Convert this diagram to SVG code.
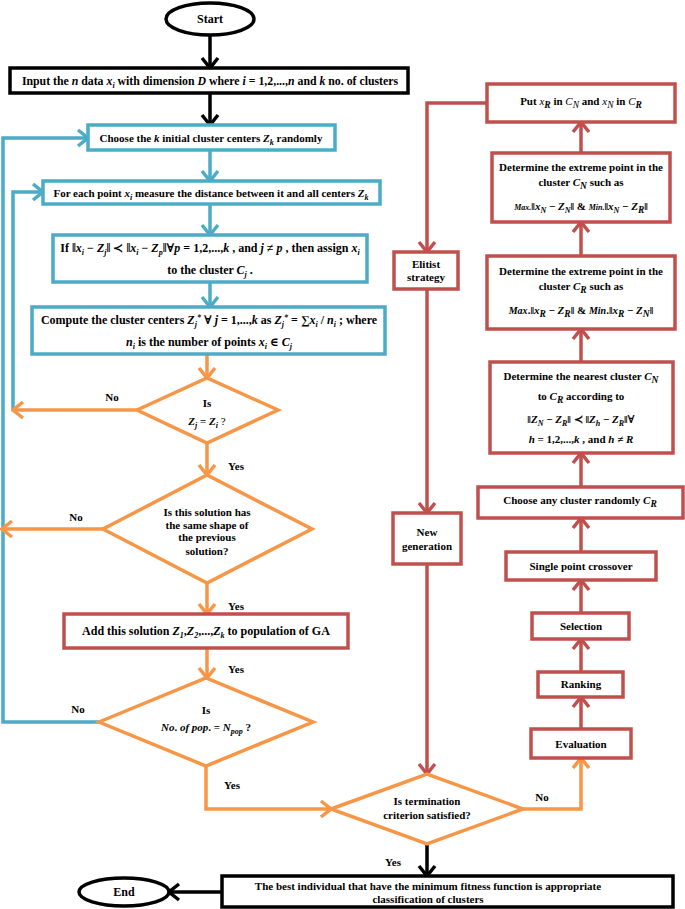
<svg xmlns="http://www.w3.org/2000/svg" width="685" height="909" viewBox="0 0 685 909">
<style>
.t{font-family:"Liberation Serif","DejaVu Serif",serif;font-weight:bold;font-size:11px;fill:#000;text-anchor:middle}
.i{font-style:italic}
.s{font-size:8px}
.s2{font-size:9.5px}
.bk{fill:#fff;stroke:#000;stroke-width:3.5}
.bb{fill:#fff;stroke:#4BACC6;stroke-width:3.5}
.bo{fill:#fff;stroke:#F79646;stroke-width:3.5}
.br{fill:#fff;stroke:#C0504D;stroke-width:3.5}
.lk{fill:none;stroke:#000;stroke-width:3.5}
.lb{fill:none;stroke:#4BACC6;stroke-width:3.5}
.lo{fill:none;stroke:#F79646;stroke-width:3.5}
.lr{fill:none;stroke:#C0504D;stroke-width:3.5}
</style>
<defs>
<marker id="mk" viewBox="0 0 14 20" refX="12" refY="10" markerWidth="14" markerHeight="20" markerUnits="userSpaceOnUse" orient="auto"><path d="M2,2 L12,10 L2,18" fill="none" stroke="#000" stroke-width="3.5"/></marker>
<marker id="mb" viewBox="0 0 14 20" refX="12" refY="10" markerWidth="14" markerHeight="20" markerUnits="userSpaceOnUse" orient="auto"><path d="M2,2 L12,10 L2,18" fill="none" stroke="#4BACC6" stroke-width="3.5"/></marker>
<marker id="mo" viewBox="0 0 14 20" refX="12" refY="10" markerWidth="14" markerHeight="20" markerUnits="userSpaceOnUse" orient="auto"><path d="M2,2 L12,10 L2,18" fill="none" stroke="#F79646" stroke-width="3.5"/></marker>
<marker id="mr" viewBox="0 0 14 20" refX="12" refY="10" markerWidth="14" markerHeight="20" markerUnits="userSpaceOnUse" orient="auto"><path d="M2,2 L12,10 L2,18" fill="none" stroke="#C0504D" stroke-width="3.5"/></marker>
</defs>
<rect width="685" height="909" fill="#fff"/>

<g id="connectors">
<path class="lk" d="M210,36 V68" marker-end="url(#mk)"/>
<path class="lk" d="M210,93 V125" marker-end="url(#mk)"/>
<path class="lk" d="M427,844 V876" marker-end="url(#mk)"/>
<path class="lk" d="M222,892 H169" marker-end="url(#mk)"/>
<path class="lb" d="M210,150 V181" marker-end="url(#mb)"/>
<path class="lb" d="M210,204 V235" marker-end="url(#mb)"/>
<path class="lb" d="M210,282 V307" marker-end="url(#mb)"/>
<path class="lb" d="M13,410 V192 H43" marker-end="url(#mb)"/>
<path class="lb" d="M99,722 H3 V138 H88" marker-end="url(#mb)"/>
<path class="lo" d="M207,354 V378" marker-end="url(#mo)"/>
<path class="lo" d="M137,410 H13" marker-end="url(#mo)"/>
<path class="lo" d="M207,443 V475" marker-end="url(#mo)"/>
<path class="lo" d="M103,529 H2" marker-end="url(#mo)"/>
<path class="lo" d="M207,583 V614" marker-end="url(#mo)"/>
<path class="lo" d="M207,648 V678" marker-end="url(#mo)"/>
<path class="lo" d="M206,766 V809 H331" marker-end="url(#mo)"/>
<path class="lo" d="M523,809 H581 V758" marker-end="url(#mo)"/>
<path class="lr" d="M487,103 H427 V252" marker-end="url(#mr)"/>
<path class="lr" d="M427,289 V513" marker-end="url(#mr)"/>
<path class="lr" d="M427,564 V774" marker-end="url(#mr)"/>
<path class="lr" d="M581,729 V697" marker-end="url(#mr)"/>
<path class="lr" d="M581,672 V639" marker-end="url(#mr)"/>
<path class="lr" d="M581,613 V580" marker-end="url(#mr)"/>
<path class="lr" d="M581,552 V518" marker-end="url(#mr)"/>
<path class="lr" d="M581,487 V453" marker-end="url(#mr)"/>
<path class="lr" d="M581,362 V329" marker-end="url(#mr)"/>
<path class="lr" d="M581,256 V222" marker-end="url(#mr)"/>
<path class="lr" d="M581,153 V122" marker-end="url(#mr)"/>
<text class="t" x="112" y="401">No</text>
<text class="t" x="236" y="470">Yes</text>
<text class="t" x="76" y="521">No</text>
<text class="t" x="236" y="610">Yes</text>
<text class="t" x="236" y="673">Yes</text>
<text class="t" x="78" y="713">No</text>
<text class="t" x="232" y="789">Yes</text>
<text class="t" x="542" y="801">No</text>
<text class="t" x="393" y="866">Yes</text>
</g>

<g id="start">
<ellipse class="bk" cx="210" cy="19" rx="44" ry="16"/>
<text class="t" x="210" y="23" style="font-size:12px">Start</text>
</g>

<g id="input">
<rect class="bk" x="10" y="68" width="398" height="25"/>
<text class="t" x="210" y="85" style="font-size:11.8px">Input the <tspan class="i">n</tspan> data  <tspan class="i">x</tspan><tspan class="s i" dy="3">i</tspan><tspan dy="-3"> with dimension </tspan><tspan class="i">D</tspan> where  <tspan class="i">i</tspan> = 1,2,...,<tspan class="i">n</tspan>   and <tspan class="i">k</tspan>  no. of clusters</text>
</g>

<g id="choose">
<rect class="bb" x="88" y="125" width="247" height="25"/>
<text class="t" x="211" y="142">Choose the <tspan class="i">k</tspan> initial cluster centers <tspan class="i">Z</tspan><tspan class="s i" dy="3">k</tspan><tspan dy="-3"> randomly</tspan></text>
</g>

<g id="foreach">
<rect class="bb" x="43" y="181" width="337" height="23"/>
<text class="t" x="211" y="197">For each point <tspan class="i">x</tspan><tspan class="s i" dy="3">i</tspan><tspan dy="-3"> measure the distance between it and all centers </tspan><tspan class="i">Z</tspan><tspan class="s i" dy="3">k</tspan></text>
</g>

<g id="assign">
<rect class="bb" x="53" y="235" width="314" height="47"/>
<text class="t" x="210" y="252" style="font-size:12px">If ‖<tspan class="i">x</tspan><tspan class="s i" dy="3">i</tspan><tspan dy="-3"> − </tspan><tspan class="i">Z</tspan><tspan class="s i" dy="3">j</tspan><tspan dy="-3">‖ ≺ ‖</tspan><tspan class="i">x</tspan><tspan class="s i" dy="3">i</tspan><tspan dy="-3"> − </tspan><tspan class="i">Z</tspan><tspan class="s i" dy="3">p</tspan><tspan dy="-3">‖∀</tspan><tspan class="i">p</tspan> = 1,2,...,<tspan class="i">k</tspan> , and <tspan class="i">j</tspan> ≠ <tspan class="i">p</tspan> , then assign <tspan class="i">x</tspan><tspan class="s i" dy="3">i</tspan></text>
<text class="t" x="210" y="274" style="font-size:12px">to the cluster <tspan class="i">C</tspan><tspan class="s i" dy="3">j</tspan><tspan dy="-3"> .</tspan></text>
</g>

<g id="compute">
<rect class="bb" x="32" y="307" width="353" height="47"/>
<text class="t" x="209" y="324" style="font-size:12px">Compute the cluster centers  <tspan class="i">Z</tspan><tspan class="s i" dy="3">j</tspan><tspan class="s i" dy="-7">*</tspan><tspan dy="4"> ∀ </tspan><tspan class="i">j</tspan> = 1,...,<tspan class="i">k</tspan>  as  <tspan class="i">Z</tspan><tspan class="s i" dy="3">j</tspan><tspan class="s i" dy="-7">*</tspan><tspan dy="4"> = ∑</tspan><tspan class="i">x</tspan><tspan class="s i" dy="3">i</tspan><tspan dy="-3"> / </tspan><tspan class="i">n</tspan><tspan class="s i" dy="3">i</tspan><tspan dy="-3"> ; where</tspan></text>
<text class="t" x="209" y="346" style="font-size:12px"><tspan class="i">n</tspan><tspan class="s i" dy="3">i</tspan><tspan dy="-3"> is the number of points </tspan><tspan class="i">x</tspan><tspan class="s i" dy="3">i</tspan><tspan dy="-3"> ∈ </tspan><tspan class="i">C</tspan><tspan class="s i" dy="3">j</tspan></text>
</g>

<g id="dec1">
<polygon class="bo" points="137,410 207,378 278,410 207,443"/>
<text class="t" x="207" y="407">Is</text>
<text class="t" x="207" y="425"><tspan class="i">Z</tspan><tspan class="s i" dy="3">j</tspan><tspan dy="-3"> = </tspan><tspan class="i">Z</tspan><tspan class="s i" dy="3">i</tspan><tspan dy="-3" font-weight="normal"> ?</tspan></text>
</g>

<g id="dec2">
<polygon class="bo" points="103,529 207,475 312,529 207,583"/>
<text class="t" x="207" y="516">Is this solution has</text>
<text class="t" x="207" y="529">the same shape of</text>
<text class="t" x="207" y="541">the previous</text>
<text class="t" x="207" y="555">solution?</text>
</g>

<g id="addpop">
<rect class="br" x="64" y="614" width="284" height="34"/>
<text class="t" x="206" y="635" style="font-size:12px">Add this solution  <tspan class="i">Z</tspan><tspan class="s i" dy="3">1</tspan><tspan dy="-3">,</tspan><tspan class="i">Z</tspan><tspan class="s i" dy="3">2</tspan><tspan dy="-3">,...,</tspan><tspan class="i">Z</tspan><tspan class="s i" dy="3">k</tspan><tspan dy="-3">   to population of GA</tspan></text>
</g>

<g id="dec3">
<polygon class="bo" points="99,722 206,678 313,722 206,766"/>
<text class="t" x="206" y="714">Is</text>
<text class="t" x="206" y="731"><tspan class="i">No</tspan>. <tspan class="i">of  pop</tspan>. = <tspan class="i">N</tspan><tspan class="s i" dy="3">pop</tspan><tspan dy="-3"> ?</tspan></text>
</g>

<g id="putx">
<rect class="br" x="487" y="84" width="188" height="38"/>
<text class="t" x="581" y="105">Put <tspan class="i" font-weight="normal">x</tspan><tspan class="s2 i" dy="3">R</tspan><tspan dy="-3">  in </tspan><tspan class="i" font-weight="normal">C</tspan><tspan class="s2 i" font-weight="normal" dy="3">N</tspan><tspan dy="-3">  and </tspan><tspan class="i" font-weight="normal">x</tspan><tspan class="s2 i" font-weight="normal" dy="3">N</tspan><tspan dy="-3">  in </tspan><tspan class="i" font-weight="normal">C</tspan><tspan class="s2 i" dy="3">R</tspan></text>
</g>

<g id="extremeN">
<rect class="br" x="492" y="153" width="178" height="69"/>
<text class="t" x="581" y="171">Determine the extreme point in the</text>
<text class="t" x="581" y="186">cluster <tspan class="i">C</tspan><tspan class="s2 i" dy="3">N</tspan><tspan dy="-3">  such as</tspan></text>
<text class="t" x="581" y="210"><tspan class="s i">Max.</tspan>‖<tspan class="i">x</tspan><tspan class="s i" dy="3">N</tspan><tspan dy="-3"> − </tspan><tspan class="i">Z</tspan><tspan class="s i" dy="3">N</tspan><tspan dy="-3">‖ &amp; </tspan><tspan class="s i">Min.</tspan>‖<tspan class="i">x</tspan><tspan class="s i" dy="3">N</tspan><tspan dy="-3"> − </tspan><tspan class="i">Z</tspan><tspan class="s2 i" dy="3">R</tspan><tspan dy="-3">‖</tspan></text>
</g>

<g id="extremeR">
<rect class="br" x="487" y="256" width="188" height="73"/>
<text class="t" x="581" y="275">Determine the extreme point in the</text>
<text class="t" x="581" y="290">cluster <tspan class="i">C</tspan><tspan class="s2 i" dy="3">R</tspan><tspan dy="-3">  such as</tspan></text>
<text class="t" x="581" y="314"><tspan class="i" style="font-size:10px">Max</tspan>.‖<tspan class="i">x</tspan><tspan class="s2 i" dy="3">R</tspan><tspan dy="-3"> − </tspan><tspan class="i">Z</tspan><tspan class="s2 i" dy="3">R</tspan><tspan dy="-3">‖ &amp; </tspan><tspan class="i" style="font-size:10px">Min</tspan>.‖<tspan class="i">x</tspan><tspan class="s2 i" dy="3">R</tspan><tspan dy="-3"> − </tspan><tspan class="i">Z</tspan><tspan class="s2 i" dy="3">N</tspan><tspan dy="-3">‖</tspan></text>
</g>

<g id="nearest">
<rect class="br" x="490" y="362" width="183" height="91"/>
<text class="t" x="581" y="380">Determine the nearest cluster <tspan class="i">C</tspan><tspan class="s2 i" dy="3">N</tspan></text>
<text class="t" x="581" y="400">to <tspan class="i">C</tspan><tspan class="s2 i" dy="3">R</tspan><tspan dy="-3">  according to</tspan></text>
<text class="t" x="581" y="423">‖<tspan class="i">Z</tspan><tspan class="s i" dy="3">N</tspan><tspan dy="-3"> − </tspan><tspan class="i">Z</tspan><tspan class="s i" dy="3">R</tspan><tspan dy="-3">‖ ≺ ‖</tspan><tspan class="i">Z</tspan><tspan class="s i" dy="3">h</tspan><tspan dy="-3"> − </tspan><tspan class="i">Z</tspan><tspan class="s i" dy="3">R</tspan><tspan dy="-3">‖∀</tspan></text>
<text class="t" x="581" y="443"><tspan class="i">h</tspan> = 1,2,...,<tspan class="i">k</tspan> , and <tspan class="i">h</tspan> ≠ <tspan class="i">R</tspan></text>
</g>

<g id="chooseR">
<rect class="br" x="478" y="487" width="205" height="31"/>
<text class="t" x="580" y="504">Choose any cluster randomly <tspan class="i">C</tspan><tspan class="s2 i" dy="3">R</tspan></text>
</g>

<g id="crossover">
<rect class="br" x="506" y="552" width="150" height="28"/>
<text class="t" x="581" y="570">Single point crossover</text>
</g>

<g id="selection">
<rect class="br" x="532" y="613" width="97" height="26"/>
<text class="t" x="581" y="630">Selection</text>
</g>

<g id="ranking">
<rect class="br" x="538" y="672" width="85" height="25"/>
<text class="t" x="581" y="688">Ranking</text>
</g>

<g id="evaluation">
<rect class="br" x="531" y="729" width="100" height="29"/>
<text class="t" x="581" y="748">Evaluation</text>
</g>

<g id="elitist">
<rect class="br" x="394" y="252" width="64" height="37"/>
<text class="t" x="426" y="268">Elitist</text>
<text class="t" x="426" y="281">strategy</text>
</g>

<g id="newgen">
<rect class="br" x="393" y="513" width="68" height="51"/>
<text class="t" x="427" y="536">New</text>
<text class="t" x="427" y="550">generation</text>
</g>

<g id="termination">
<polygon class="bo" points="331,809 427,774 523,809 427,844"/>
<text class="t" x="427" y="805">Is termination</text>
<text class="t" x="427" y="819">criterion satisfied?</text>
</g>

<g id="best">
<rect class="bk" x="222" y="876" width="451" height="31"/>
<text class="t" x="428" y="890">The best individual that have the minimum fitness function is appropriate</text>
<text class="t" x="428" y="903">classification of clusters</text>
</g>

<g id="end">
<ellipse class="bk" cx="124" cy="892" rx="45" ry="14"/>
<text class="t" x="124" y="896" style="font-size:12px">End</text>
</g>
</svg>
